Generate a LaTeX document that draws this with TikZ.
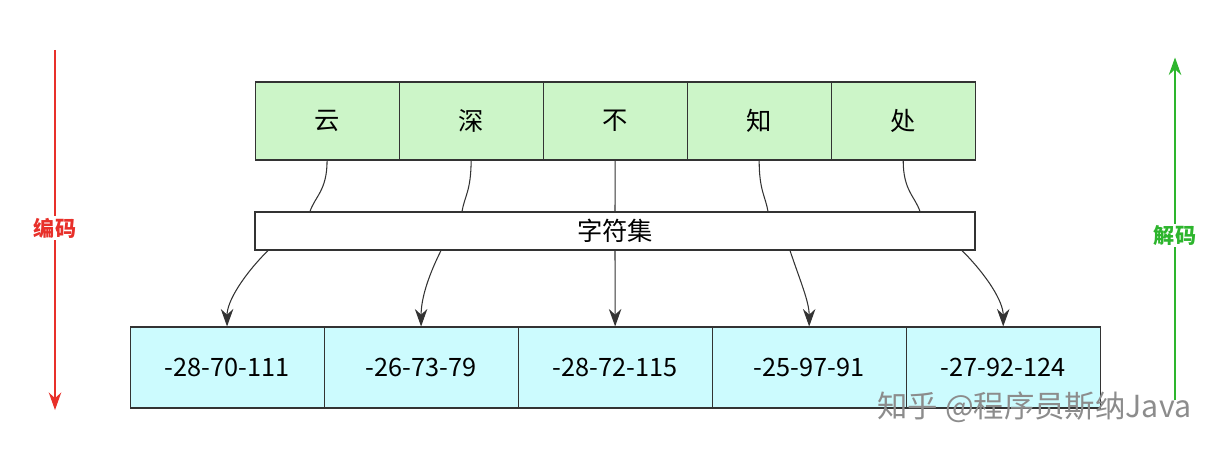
\documentclass[tikz,border=0pt]{standalone}
\usepackage{fontspec}
\setmainfont{Noto Sans CJK SC}
\usetikzlibrary{arrows.meta}
\definecolor{topgreen}{HTML}{CCF5C8}
\definecolor{botcyan}{HTML}{CCFBFE}
\definecolor{encred}{HTML}{E8302A}
\definecolor{decgreen}{HTML}{2DB52D}
\tikzset{
  charbox/.style={draw=black!80, semithick, fill=topgreen, minimum width=2.88cm, minimum height=1.56cm, inner sep=0pt, font=\Large},
  codebox/.style={draw=black!80, semithick, fill=botcyan, minimum width=3.88cm, minimum height=1.62cm, inner sep=0pt, font=\Large},
  link/.style={black!80, semithick},
  tip/.style={black!80, semithick, -{Stealth[length=3.5mm,width=2.5mm]}}
}
\begin{document}
\begin{tikzpicture}
    \useasboundingbox (0,0) rectangle (24.6,9.2);
    % top characters
    \foreach \t [count=\i] in {云,深,不,知,处}
        \node[charbox] (c\i) at ({(327+144*(\i-1))*0.02},6.78) {\t};
    % charset
    \node[draw=black!80, semithick, fill=white, minimum width=14.4cm, minimum height=0.76cm, inner sep=0pt, font=\Large] (cs) at (12.3,4.58) {字符集};
    % bottom codes
    \foreach \t [count=\i] in {-28-70-111,-26-73-79,-28-72-115,-25-97-91,-27-92-124}
        \node[codebox] (b\i) at ({(227+194*(\i-1))*0.02},1.85) {\t};

    % characters into charset
    \draw[link] (c1.south) .. controls +(0,-0.6) and +(0.1,0.3) .. ([xshift=-6.1cm]cs.north);
    \draw[link] (c2.south) .. controls +(0,-0.6) and +(0.05,0.3) .. ([xshift=-3.06cm]cs.north);
    \draw[link] (c3.south) -- (cs.north);
    \draw[link] (c4.south) .. controls +(0,-0.6) and +(-0.05,0.3) .. ([xshift=3.06cm]cs.north);
    \draw[link] (c5.south) .. controls +(0,-0.6) and +(-0.1,0.3) .. ([xshift=6.1cm]cs.north);

    % charset into codes
    \draw[tip] ([xshift=-6.94cm]cs.south) .. controls +(-0.5,-0.5) and +(0,0.5) .. (b1.north);
    \draw[tip] ([xshift=-3.48cm]cs.south) .. controls +(-0.3,-0.6) and +(0,0.5) .. (b2.north);
    \draw[tip] (cs.south) -- (b3.north);
    \draw[tip] ([xshift=3.5cm]cs.south) .. controls +(0.2,-0.6) and +(0,0.5) .. (b4.north);
    \draw[tip] ([xshift=6.94cm]cs.south) .. controls +(0.5,-0.5) and +(0,0.5) .. (b5.north);

    % encode / decode
    \coordinate (e1) at (1.1,8.2);
    \coordinate (e2) at (1.1,1.0);
    \draw[encred, semithick, -{Stealth[length=3.5mm,width=2.5mm]}] (e1) -- (e2)
        node[pos=0.495, fill=white, inner sep=1pt, text=encred, font=\large\bfseries] {编码};
    \coordinate (d1) at (23.5,1.2);
    \coordinate (d2) at (23.5,8.05);
    \draw[decgreen, semithick, -{Stealth[length=3.5mm,width=2.5mm]}] (d1) -- (d2)
        node[pos=0.48, fill=white, inner sep=1pt, text=decgreen, font=\large\bfseries] {解码};

    % watermark
    \node[text=black!45, font=\LARGE, anchor=east] (wm) at (23.95,1.05) {知乎 @程序员斯纳Java};
\end{tikzpicture}
\end{document}
